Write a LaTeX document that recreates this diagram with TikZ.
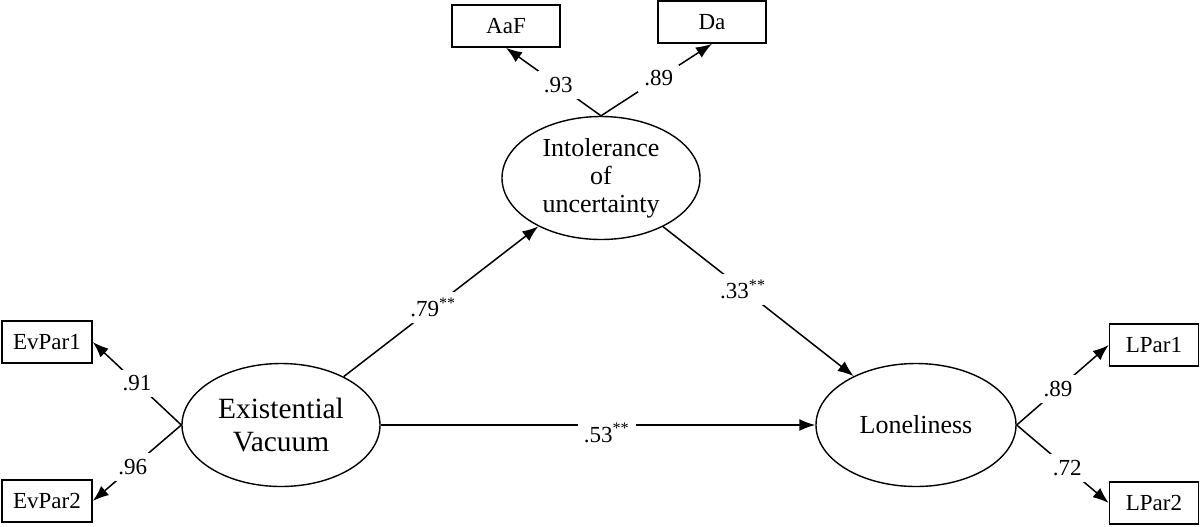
\documentclass[tikz,border=0pt]{standalone}
\usepackage{fontspec}
\setmainfont{Liberation Serif}
\usetikzlibrary{shapes.geometric,arrows.meta}
\begin{document}
\begin{tikzpicture}[x=0.5pt, y=-0.5pt, >={Latex[length=8pt,width=6pt]},
		latent/.style={draw, line width=0.7pt, ellipse, minimum width=99pt, minimum height=61.5pt, inner sep=0pt, align=center},
		obs/.style={draw, line width=0.8pt, rectangle, minimum width=54pt, minimum height=21pt, inner sep=0pt, font=\fontsize{11.5}{13}\selectfont},
		path/.style={line width=0.75pt, ->},
		coef/.style={fill=white, inner sep=3pt, font=\fontsize{11.5}{13}\selectfont}]
			\useasboundingbox (0,0) rectangle (1200,526);
			\node[latent, font=\fontsize{13}{14}\selectfont] (iu) at (601,178) {Intolerance\\of\\uncertainty};
			\node[latent, font=\fontsize{14.7}{16.5}\selectfont] (ev) at (281,425) {Existential\\Vacuum};
			\node[latent, minimum width=100pt, font=\fontsize{13}{14}\selectfont] (lon) at (916,425) {Loneliness};
			\node[obs] (aaf) at (506,26) {AaF};
			\node[obs] (da) at (712,22) {Da};
			\node[obs, minimum width=45pt] (evp1) at (47,342) {EvPar1};
			\node[obs, minimum width=45pt] (evp2) at (47,501) {EvPar2};
			\node[obs, minimum width=44.5pt] (lp1) at (1154,345) {LPar1};
			\node[obs, minimum width=44.5pt] (lp2) at (1154,503) {LPar2};
			\draw[path] (iu.north) -- (aaf.south) node[coef, pos=0.45] {.93};
			\draw[path] (iu.north) -- (da.south) node[coef, pos=0.52] {.89};
			\draw[path] (ev.west) -- (evp1.east) node[coef, pos=0.5] {.91};
			\draw[path] (ev.west) -- (evp2.east) node[coef, pos=0.55] {.96};
			\draw[path] (lon.east) -- (lp1.west) node[coef, pos=0.45] {.89};
			\draw[path] (lon.east) -- (lp2.west) node[coef, pos=0.55] {.72};
			\draw[path] (ev) -- (iu) node[coef, pos=0.46] {.79\textsuperscript{**}};
			\draw[path] (iu) -- (lon) node[coef, pos=0.42] {.33\textsuperscript{**}};
			\draw[path] (ev.east) -- (lon.west) node[coef, pos=0.52, yshift=-4pt] {.53\textsuperscript{**}};
		\end{tikzpicture}
\end{document}
